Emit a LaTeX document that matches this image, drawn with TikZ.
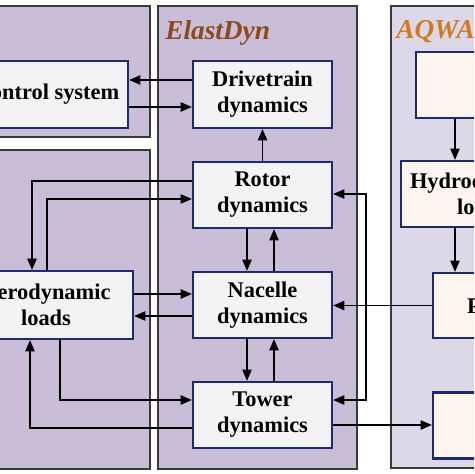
\documentclass[tikz,border=0pt]{standalone}
\usepackage{fontspec}
\setmainfont{Liberation Serif}
\usetikzlibrary{arrows.meta,calc}
\definecolor{panelP}{HTML}{C9BDD7}
\definecolor{panelA}{HTML}{DCD8E8}
\definecolor{boxE}{HTML}{F3F3F6}
\definecolor{boxA}{HTML}{FDF4EF}
\definecolor{navy}{HTML}{1C2A6E}
\definecolor{edge}{HTML}{3A3A3A}
\definecolor{brownT}{HTML}{8B4A1E}
\definecolor{orangeT}{HTML}{D27A22}
\begin{document}
\begin{tikzpicture}[x=0.75pt,y=-0.75pt,
 panel/.style={draw=edge,line width=1pt},
 blk/.style={draw=navy,line width=1.7pt,fill=boxE,inner sep=0pt,align=center,
   minimum width=104.25pt,minimum height=49.5pt,
   font=\fontsize{16.8}{19.5}\selectfont\bfseries},
 ablk/.style={blk,fill=boxA},
 ttl/.style={anchor=base west,inner sep=0pt,font=\fontsize{20.5}{24}\selectfont\bfseries\itshape},
 arr/.style={-{Triangle[length=8.5pt,width=7pt]},line width=1.25pt}]
\useasboundingbox (0,0) rectangle (474,474);
\clip (0,0) rectangle (474,474);
\fill[white] (0,0) rectangle (474,474);
% panels
\draw[panel,fill=panelP] (-5,6) rectangle (150,137);
\draw[panel,fill=panelP] (-5,150) rectangle (150,469);
\draw[panel,fill=panelP] (158,6) rectangle (357,469);
\draw[panel,fill=panelA] (391,6) rectangle (490,468);
\node[ttl,text=brownT] (tE) at (165,40) {ElastDyn};
\node[ttl,text=orangeT] (tA) at (396,39) {AQWA};
% blocks
\node[blk,minimum width=121.5pt,minimum height=50.25pt] (control) at (47,94.5) {Control system};
\node[blk,minimum width=130.5pt,minimum height=51pt] (aero) at (46,305) {Aerodynamic\\loads};
\node[blk,minimum height=50.25pt] (drive) at (262.5,94.5) {Drivetrain\\dynamics};
\node[blk] (rotor) at (262.5,195) {Rotor\\dynamics};
\node[blk] (nacelle) at (262.5,305) {Nacelle\\dynamics};
\node[blk] (tower) at (262.5,415) {Tower\\dynamics};
\node[ablk,minimum width=93pt] (aqwat) at (478,85) {};
\node[ablk,minimum width=121.5pt] (hydro) at (482,194) {Hydrodynamic\\loads};
\node[ablk,minimum width=115.5pt,minimum height=48.75pt] (platform) at (510,305.5) {Platform};
\node[ablk,minimum width=80.25pt] (aqwab) at (486.5,425.5) {};
% connectors
\draw[arr] (drive.west |- 0,80) -- (control.east |- 0,80);
\draw[arr] (control.east |- 0,107) -- (drive.west |- 0,107);
\draw[arr] (rotor.north) -- (drive.south);
\draw[arr] (rotor.south -| 247,0) -- (nacelle.north -| 247,0);
\draw[arr] (nacelle.north -| 274,0) -- (rotor.south -| 274,0);
\draw[arr] (nacelle.south -| 247,0) -- (tower.north -| 247,0);
\draw[arr] (tower.north -| 274,0) -- (nacelle.south -| 274,0);
\draw[arr] (rotor.west |- 0,181) -| (aero.north -| 32,0);
\draw[arr] (aero.north -| 47,0) |- (rotor.west |- 0,199);
\draw[arr] (aero.east |- 0,294) -- (nacelle.west |- 0,294);
\draw[arr] (nacelle.west |- 0,316) -- (aero.east |- 0,316);
\draw[arr] (aero.south -| 60,0) |- (tower.west |- 0,400);
\draw[arr] (tower.west |- 0,428) -| (aero.south -| 30,0);
\draw[arr] (platform.west) -- (nacelle.east |- platform.west);
\coordinate (j) at (366,305.5);
\draw[arr] (j) |- (rotor.east |- 0,194);
\draw[arr] (j) |- (tower.east |- 0,400);
\draw[arr] (tower.east |- 0,425) -- (aqwab.west |- 0,425);
\draw[arr] (aqwat.south -| 455,0) -- (hydro.north -| 455,0);
\draw[arr] (hydro.south -| 455,0) -- (platform.north -| 455,0);
\end{tikzpicture}
\end{document}
